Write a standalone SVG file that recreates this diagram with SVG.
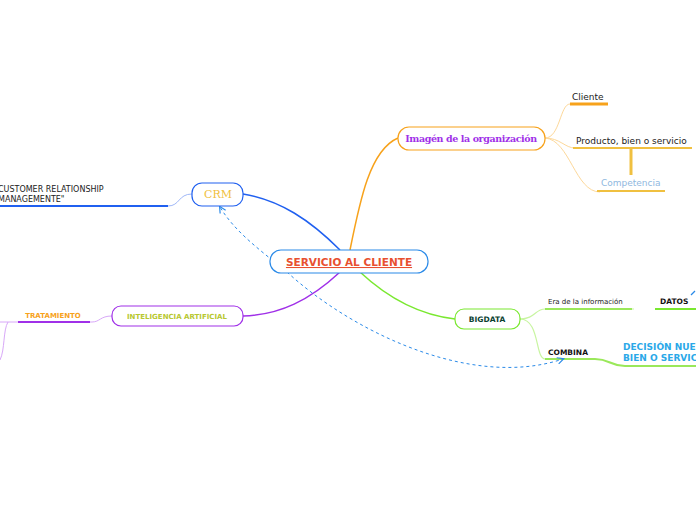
<svg xmlns="http://www.w3.org/2000/svg" width="696" height="520" viewBox="0 0 696 520">
<defs>
<marker id="ah" viewBox="0 0 10 10" refX="8" refY="5" markerWidth="8" markerHeight="8" markerUnits="userSpaceOnUse" orient="auto"><path d="M1,1 L9,5 L1,9" fill="none" stroke="#2a8ae8" stroke-width="1.5"/></marker>
</defs>
<style>
text{font-family:"DejaVu Sans",Verdana,sans-serif}
.b{font-weight:bold}
.node{fill:#fff;stroke-width:1.2}
</style>
<rect width="696" height="520" fill="#fff"/>
<g id="connectors" fill="none">
<path d="M350,250 C360,200 370,150 398,138" stroke="#f7a21b" stroke-width="1.5"/>
<path d="M340,250 C310,220 280,200 243,194" stroke="#2060f0" stroke-width="1.5"/>
<path d="M340,272 C310,300 280,315 243,316" stroke="#a030e8" stroke-width="1.5"/>
<path d="M360,272 C390,300 420,315 455,319" stroke="#7ae830" stroke-width="1.5"/>
<path d="M545,138 C560,138 560,104 570,104 L608,104" stroke="#fdd89a" stroke-width="1"/>
<path d="M545,138 C560,138 565,148 575,148" stroke="#fdd89a" stroke-width="1"/>
<path d="M545,138 C570,140 575,192 600,192" stroke="#fdd89a" stroke-width="1"/>
<path d="M570,104 L608,104" stroke="#f7a21b" stroke-width="3"/>
<path d="M573,148 L692,148" stroke="#f0c040" stroke-width="2"/>
<path d="M631,149 L631,175" stroke="#f0c040" stroke-width="3"/>
<path d="M597,191 L665,191" stroke="#f0c040" stroke-width="2"/>
<path d="M520,319 C535,319 535,309 545,309 L634,309" stroke="#c8f5a0" stroke-width="1.2"/>
<path d="M520,319 C540,319 535,359 545,359" stroke="#c8f5a0" stroke-width="1.2"/>
<path d="M545,309 L632,309" stroke="#9ae85a" stroke-width="2"/>
<path d="M655,309 L696,309" stroke="#7ae830" stroke-width="2"/>
<path d="M545,359 L595,359 C610,359 610,366 625,366 L696,366" stroke="#9ae85a" stroke-width="2"/>
<path d="M192,194 C178,194 180,206 168,206 L0,206" stroke="#a0b8f8" stroke-width="1"/>
<path d="M0,206 L168,206" stroke="#2060f0" stroke-width="2"/>
<path d="M112,316 C100,316 100,322 92,322 L18,322" stroke="#d8a8f8" stroke-width="1"/>
<path d="M18,322 L90,322" stroke="#a030e8" stroke-width="2"/>
<path d="M18,322 L0,322 M8,322 C3,330 5,350 0,360" stroke="#d8a8f8" stroke-width="1"/>
<path d="M287,272 C350,330 470,390 563,359" stroke="#2a8ae8" stroke-width="1" stroke-dasharray="3,3" marker-end="url(#ah)"/>
<path d="M287,272 C260,250 235,232 220,207" stroke="#2a8ae8" stroke-width="1" stroke-dasharray="3,3" marker-end="url(#ah)"/>
<path d="M691,295 L695,291" stroke="#2a8ae8" stroke-width="1.2"/>
</g>
<g id="center"><rect class="node" x="270" y="250" width="158" height="23" rx="11" stroke="#2a8ae8"/><text x="349" y="266" text-anchor="middle" font-size="10.5" class="b" fill="#e85030" text-decoration="underline">SERVICIO AL CLIENTE</text></g>
<g id="imagen"><rect class="node" x="398" y="127" width="147" height="23" rx="11" stroke="#f7a21b"/><text x="471" y="142" text-anchor="middle" font-size="9.5" fill="#a030e8" style="font-family:'DejaVu Serif',serif" class="b" letter-spacing="-0.4">Imagén de la organización</text></g>
<g id="cliente"><text x="572" y="100" font-size="9" fill="#222">Cliente</text></g>
<g id="producto"><text x="576" y="144" font-size="9" fill="#222">Producto, bien o servicio</text></g>
<g id="competencia"><text x="601" y="186" font-size="9" fill="#90b8e0">Competencia</text></g>
<g id="crm"><rect class="node" x="192" y="183" width="51" height="23" rx="10" stroke="#2060f0"/><text x="218" y="198" text-anchor="middle" font-size="11" fill="#f0c040" style="font-family:'DejaVu Serif',serif">CRM</text></g>
<g id="crmtext"><text font-size="8" fill="#222"><tspan x="-2" y="192">CUSTOMER RELATIONSHIP</tspan><tspan x="-2" y="202">MANAGEMENTE"</tspan></text></g>
<g id="ia"><rect class="node" x="112" y="306" width="131" height="20" rx="9" stroke="#a030e8"/><text x="177" y="319" text-anchor="middle" font-size="7" class="b" fill="#b8c830">INTELIGENCIA ARTIFICIAL</text></g>
<g id="tratamiento"><text x="53" y="318" text-anchor="middle" font-size="7" class="b" fill="#f7a21b">TRATAMIENTO</text></g>
<g id="bigdata"><rect class="node" x="455" y="309" width="65" height="20" rx="9" stroke="#7ae830"/><text x="487" y="322" text-anchor="middle" font-size="7.5" class="b" fill="#0a4030">BIGDATA</text></g>
<g id="era"><text x="548" y="304" font-size="7" fill="#222">Era de la información</text></g>
<g id="datos"><text x="660" y="304" font-size="7.5" class="b" fill="#111">DATOS</text></g>
<g id="combina"><text x="548" y="355" font-size="7.5" class="b" fill="#111">COMBINA</text></g>
<g id="decision"><text font-size="9" class="b" fill="#2aa8e8"><tspan x="623" y="350">DECISIÓN NUEVO</tspan><tspan x="623" y="361">BIEN O SERVICIO</tspan></text></g>
</svg>
